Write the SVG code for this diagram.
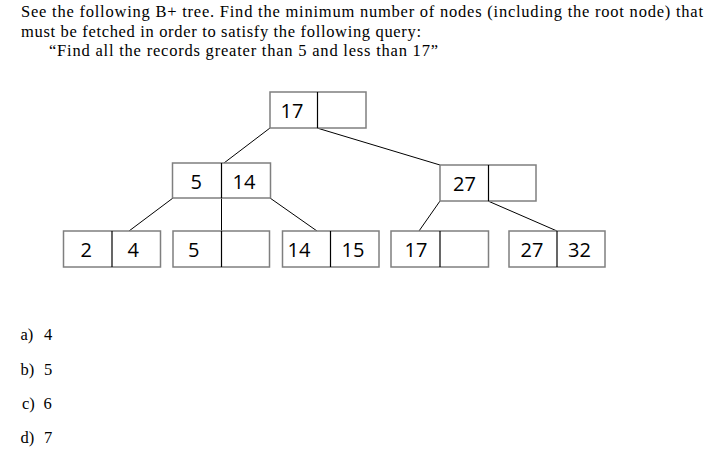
<svg xmlns="http://www.w3.org/2000/svg" width="711" height="457" viewBox="0 0 711 457">
<style>
.q{font-family:"Liberation Serif","Times New Roman",serif;font-size:16.5px;fill:#000}
.box{fill:#fff;stroke:#7f7f7f;stroke-width:1.5}
.div{stroke:#000;stroke-width:1.2}
.k{font-family:"Open Sans","Liberation Sans",sans-serif;font-size:20px;fill:#000}
.edge{stroke:#000;stroke-width:1;fill:none}
</style>
<rect width="711" height="457" fill="#fff"/>
<g id="question">
<text class="q" x="21" y="17" textLength="682" lengthAdjust="spacing">See the following B+ tree. Find the minimum number of nodes (including the root node) that</text>
<text class="q" x="21" y="36.5" textLength="400" lengthAdjust="spacing">must be fetched in order to satisfy the following query:</text>
<text class="q" x="49" y="56" textLength="389" lengthAdjust="spacing">“Find all the records greater than 5 and less than 17”</text>
</g>
<g id="connectors">
<line class="edge" x1="270" y1="128" x2="224" y2="163"/>
<line class="edge" x1="317" y1="128" x2="440" y2="165"/>
<line class="edge" x1="173" y1="198" x2="129" y2="231"/>
<line class="edge" x1="221.5" y1="198" x2="221.5" y2="231"/>
<line class="edge" x1="270" y1="198" x2="317" y2="231"/>
<line class="edge" x1="440" y1="201" x2="419" y2="231"/>
<line class="edge" x1="488" y1="201" x2="557" y2="231"/>
</g>
<g id="root">
<rect class="box" x="270" y="92" width="96" height="36"/>
<line class="div" x1="317.5" y1="92" x2="317.5" y2="128"/>
<text class="k" x="280.5" y="117.5">17</text>
</g>
<g id="inner-left">
<rect class="box" x="172.5" y="163" width="98" height="35"/>
<line class="div" x1="221.5" y1="163" x2="221.5" y2="198"/>
<text class="k" x="190.5" y="189">5</text>
<text class="k" x="232.5" y="189">14</text>
</g>
<g id="inner-right">
<rect class="box" x="440" y="165" width="96" height="36"/>
<line class="div" x1="488.5" y1="165" x2="488.5" y2="201"/>
<text class="k" x="453" y="191">27</text>
</g>
<g id="leaf-2-4">
<rect class="box" x="63.5" y="231" width="97" height="36"/>
<line class="div" x1="112" y1="231" x2="112" y2="267"/>
<text class="k" x="80.5" y="256.5">2</text>
<text class="k" x="127.5" y="256.5">4</text>
</g>
<g id="leaf-5">
<rect class="box" x="173" y="231" width="96.5" height="36"/>
<line class="div" x1="221.5" y1="231" x2="221.5" y2="267"/>
<text class="k" x="188" y="256.5">5</text>
</g>
<g id="leaf-14-15">
<rect class="box" x="282.5" y="231" width="96.5" height="36"/>
<line class="div" x1="330.5" y1="231" x2="330.5" y2="267"/>
<text class="k" x="287.5" y="256.5">14</text>
<text class="k" x="341.5" y="256.5">15</text>
</g>
<g id="leaf-17">
<rect class="box" x="391" y="231" width="97.5" height="36"/>
<line class="div" x1="440" y1="231" x2="440" y2="267"/>
<text class="k" x="404.5" y="256.5">17</text>
</g>
<g id="leaf-27-32">
<rect class="box" x="509" y="231" width="96" height="36"/>
<line class="div" x1="557" y1="231" x2="557" y2="267"/>
<text class="k" x="520.5" y="256.5">27</text>
<text class="k" x="568" y="256.5">32</text>
</g>
<g id="options">
<text class="q" x="20.5" y="340">a)</text><text class="q" x="44" y="340">4</text>
<text class="q" x="20.5" y="374.5">b)</text><text class="q" x="44" y="374.5">5</text>
<text class="q" x="22" y="409">c)</text><text class="q" x="43.5" y="409">6</text>
<text class="q" x="20.5" y="442.5">d)</text><text class="q" x="44" y="442.5">7</text>
</g>
</svg>
